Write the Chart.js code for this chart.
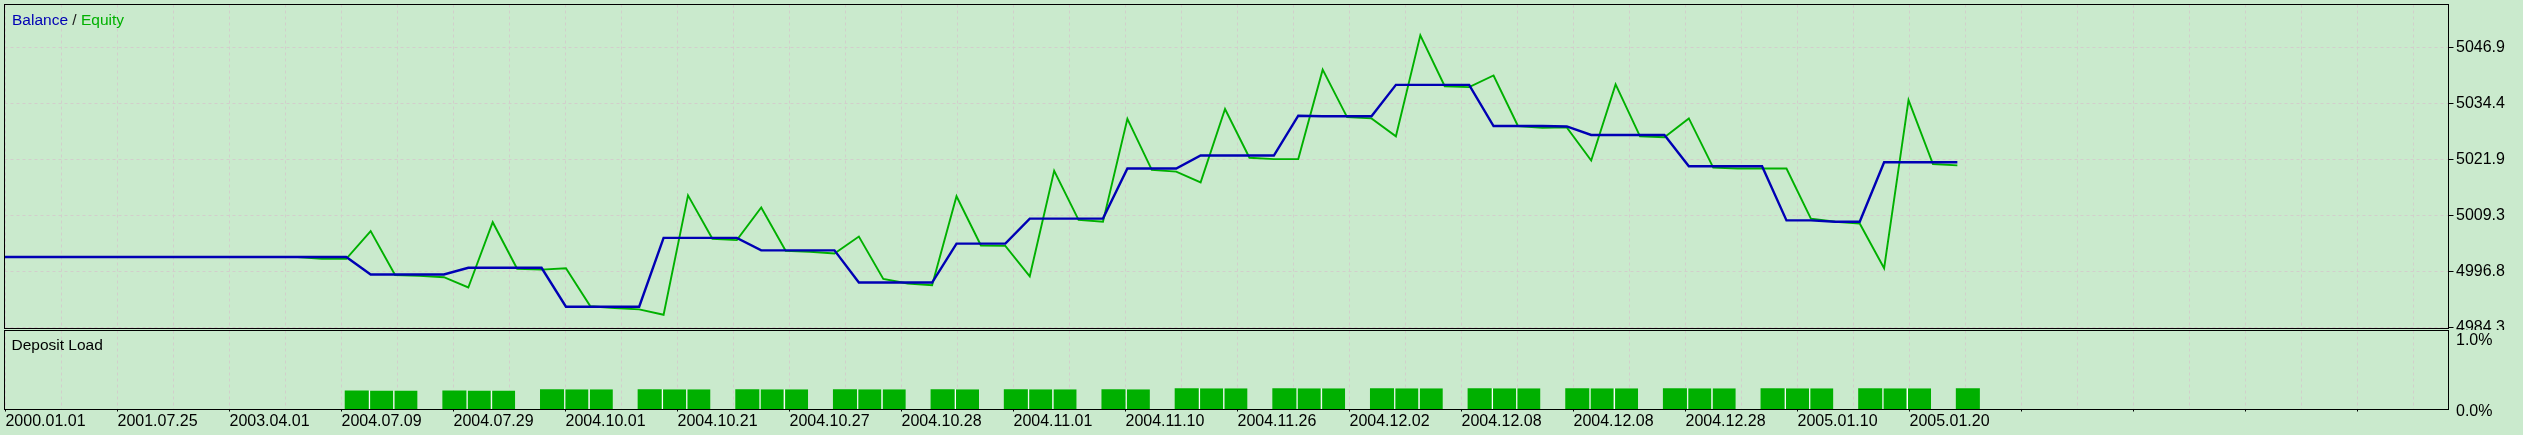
<!DOCTYPE html>
<html>
<head>
<meta charset="utf-8">
<script src="https://cdn.jsdelivr.net/npm/chart.js@4.4.1/dist/chart.umd.min.js"></script>
<style>
html,body{margin:0;padding:0;background:#caeacd;width:2523px;height:435px;overflow:hidden;}
#wa{position:absolute;left:0;top:0;width:2523px;height:330px;}
#wb{position:absolute;left:0;top:330px;width:2523px;height:105px;}
canvas{display:block;}
</style>
</head>
<body>
<div id="wa"><canvas id="ca" width="2523" height="330"></canvas></div>
<div id="wb"><canvas id="cb" width="2523" height="105"></canvas></div>
<script>
// ---- data ----
const dateLabels = ['2000.01.01','2001.07.25','2003.04.01','2004.07.09','2004.07.29','2004.10.01',
  '2004.10.21','2004.10.27','2004.10.28','2004.11.01','2004.11.10','2004.11.26','2004.12.02',
  '2004.12.08','2004.12.08','2004.12.28','2005.01.10','2005.01.20'];

const balance = [
  5000,5000,5000,5000,5000,5000,5000,5000,5000,5000,5000,5000,5000,5000,5000,
  4996.1,4996.1,4996.1,4996.1,
  4997.6,4997.6,4997.6,4997.6,
  4988.9,4988.9,4988.9,4988.9,
  5004.3,5004.3,5004.3,5004.3,
  5001.5,5001.5,5001.5,5001.5,
  4994.3,4994.3,4994.3,4994.3,
  5003.0,5003.0,5003.0,
  5008.6,5008.6,5008.6,5008.6,
  5019.8,5019.8,5019.8,
  5022.7,5022.7,5022.7,5022.7,
  5031.6,5031.5,5031.5,5031.5,
  5038.5,5038.5,5038.5,5038.5,
  5029.3,5029.3,5029.3,5029.2,
  5027.3,5027.3,5027.3,5027.3,
  5020.3,5020.3,5020.3,5020.3,
  5008.2,5008.2,5007.9,5007.9,
  5021.2,5021.2,5021.2,5021.2
];

const equity = [
  5000,5000,5000,5000,5000,5000,5000,5000,5000,5000,5000,5000,5000,
  4999.6,4999.6,
  5005.8,4996.0,4995.8,4995.5,
  4993.2,5007.8,4997.4,4997.2,
  4997.5,4989.0,4988.6,4988.3,
  4987.1,5013.8,5004.1,5003.8,
  5011.1,5001.4,5001.2,5000.8,
  5004.6,4995.1,4994.1,4993.7,
  5013.6,5002.6,5002.5,
  4995.7,5019.3,5008.3,5007.9,
  5030.9,5019.5,5019.1,
  5016.7,5033.1,5022.2,5021.9,
  5021.9,5041.9,5031.3,5031.0,
  5027.0,5049.6,5038.2,5038.0,
  5040.6,5029.3,5028.9,5029.0,
  5021.6,5038.6,5027.0,5026.8,
  5031.0,5020.0,5019.8,5019.8,
  5019.8,5008.6,5007.9,5007.5,
  4997.5,5035.1,5020.8,5020.5
];

// deposit load (%) per trade interval, null = none
const depositLoad = [
  null,null,null,null,null,null,null,null,null,null,null,null,null,null,
  0.24,0.24,0.24,null,0.24,0.24,0.24,null,
  0.255,0.255,0.255,null,0.255,0.255,0.255,null,0.255,0.255,0.255,null,
  0.255,0.255,0.255,null,0.255,0.255,null,0.255,0.255,0.255,null,0.255,0.255,null,
  0.27,0.27,0.27,null,0.27,0.27,0.27,null,0.27,0.27,0.27,null,0.27,0.27,0.27,null,
  0.27,0.27,0.27,null,0.27,0.27,0.27,null,0.27,0.27,0.27,null,0.27,0.27,0.27,null,
  0.27
];

const yTickValues = [4984.3, 4996.82, 5009.34, 5021.86, 5034.38, 5046.9];
const yTickLabels = ['4984.3','4996.8','5009.3','5021.9','5034.4','5046.9'];
const depositTicks = [0, 1];

// ---- style / layout ----
const FONT = "'Liberation Sans', Arial, sans-serif";
const BLUE = '#0000b4', GREEN = '#00b000', GRID = '#d2cecb';
const X_MAX = 100.12, GRID_STEP = 2.29414, GRID_OFF = 0.04, AXIS_W = 74.5;
const Y_MIN = 4984.03, Y_MAX = 5056.47;
const BAR_SHIFT = 0.43;

function gridTicks(scale) {
  const t = [];
  for (let k = 0; GRID_OFF + k * GRID_STEP <= X_MAX; k++) t.push({value: GRID_OFF + k * GRID_STEP});
  scale.ticks = t;
}

const framePlugin = {
  id: 'frame',
  afterDraw(chart) {
    const {ctx, chartArea: a} = chart;
    ctx.save();
    ctx.strokeStyle = '#000';
    ctx.lineWidth = 1;
    ctx.strokeRect(a.left, a.top, a.right - a.left, a.bottom - a.top);
    ctx.restore();
  }
};

const titlePlugin = {
  id: 'titleA',
  afterDraw(chart) {
    const ctx = chart.ctx;
    ctx.save();
    ctx.font = '15.5px ' + FONT;
    ctx.textBaseline = 'alphabetic';
    ctx.textAlign = 'left';
    let x = 12;
    const parts = [['Balance', BLUE], [' / ', '#1a1a1a'], ['Equity', GREEN]];
    parts.forEach(([t, c]) => { ctx.fillStyle = c; ctx.fillText(t, x, 25); x += ctx.measureText(t).width; });
    ctx.restore();
  }
};

const depPlugin = {
  id: 'depText',
  afterDraw(chart) {
    const ctx = chart.ctx;
    const s = chart.scales.y;
    ctx.save();
    ctx.fillStyle = '#000';
    ctx.textAlign = 'left';
    ctx.textBaseline = 'alphabetic';
    ctx.font = '15.5px ' + FONT;
    ctx.fillText('Deposit Load', 11.5, 20);
    ctx.font = '16px ' + FONT;
    depositTicks.forEach(v => {
      const y = s.getPixelForValue(v);
      const base = v === s.max ? y + 14.5 : y + 6.5;
      ctx.fillText(v.toFixed(1) + '%', s.left + 7.5, base);
    });
    ctx.restore();
  }
};

// ---- main panel: balance / equity ----
new Chart(document.getElementById('ca'), {
  type: 'line',
  data: {
    datasets: [
      {label: 'Balance', data: balance.map((v, i) => ({x: i, y: v})), borderColor: BLUE, borderWidth: 2.4,
       pointRadius: 0, tension: 0, fill: false},
      {label: 'Equity', data: equity.map((v, i) => ({x: i, y: v})), borderColor: GREEN, borderWidth: 1.9,
       pointRadius: 0, tension: 0, fill: false}
    ]
  },
  options: {
    responsive: false, animation: false, events: [], devicePixelRatio: 1,
    layout: {padding: {left: 4.5, top: 4.5, right: 0, bottom: 1.5}},
    plugins: {legend: {display: false}, tooltip: {enabled: false}},
    scales: {
      x: {
        type: 'linear', min: 0, max: X_MAX, offset: false,
        afterBuildTicks: gridTicks,
        afterFit(s) { s.height = 0; s.paddingLeft = 0; s.paddingRight = 0; },
        ticks: {display: false},
        grid: {color: GRID, lineWidth: 1, drawTicks: false, offset: false},
        border: {display: false, dash: [3, 3]}
      },
      y: {
        position: 'right', min: Y_MIN, max: Y_MAX,
        afterBuildTicks(s) { s.ticks = yTickValues.map(v => ({value: v})); },
        afterFit(s) { s.width = AXIS_W; s.paddingTop = 0; s.paddingBottom = 0; },
        ticks: {callback: (v, i) => yTickLabels[i], color: '#000', font: {family: FONT, size: 16}, padding: 2.5},
        grid: {color: GRID, lineWidth: 1, tickLength: 5, tickColor: '#000', tickWidth: 1, tickBorderDash: []},
        border: {display: false, dash: [3, 3]}
      }
    }
  },
  plugins: [framePlugin, titlePlugin]
});

// ---- deposit load panel ----
const barData = [];
depositLoad.forEach((v, i) => { if (v !== null) barData.push({x: i + BAR_SHIFT, y: v, i: i}); });

new Chart(document.getElementById('cb'), {
  type: 'bar',
  data: {
    datasets: [{
      label: 'Deposit Load',
      data: barData,
      backgroundColor: GREEN,
      borderColor: '#ffffff',
      borderSkipped: false,
      borderWidth: (c) => {
        const d = c.raw;
        return (d && d.i > 0 && depositLoad[d.i - 1] !== null) ? {left: 1, right: 0, top: 0, bottom: 0} : 0;
      },
      categoryPercentage: 1,
      barPercentage: 0.985
    }]
  },
  options: {
    responsive: false, animation: false, events: [], devicePixelRatio: 1,
    layout: {padding: {left: 4.5, top: 0.5, right: 0, bottom: 0}},
    plugins: {legend: {display: false}, tooltip: {enabled: false}},
    scales: {
      x: {
        type: 'linear', min: 0, max: X_MAX, offset: false,
        afterBuildTicks: gridTicks,
        afterFit(s) { s.height = 25.5; s.paddingLeft = 0; s.paddingRight = 0; },
        ticks: {
          autoSkip: false, maxRotation: 0, minRotation: 0, align: 'start', padding: 0,
          color: '#000', font: {family: FONT, size: 16},
          callback: (v, i) => (i % 2 === 0 && i / 2 < dateLabels.length) ? dateLabels[i / 2] : ''
        },
        grid: {
          color: GRID, lineWidth: 1, offset: false, drawTicks: true, tickLength: 2, tickWidth: 1,
          tickColor: (c) => (c.index % 2 === 0 ? '#000' : 'rgba(0,0,0,0)'), tickBorderDash: []
        },
        border: {display: false, dash: [3, 3]}
      },
      y: {
        position: 'right', min: 0, max: 1,
        afterFit(s) { s.width = AXIS_W; s.paddingTop = 0; s.paddingBottom = 0; },
        ticks: {display: false},
        grid: {display: false},
        border: {display: false}
      }
    }
  },
  plugins: [framePlugin, depPlugin]
});
</script>
</body>
</html>
